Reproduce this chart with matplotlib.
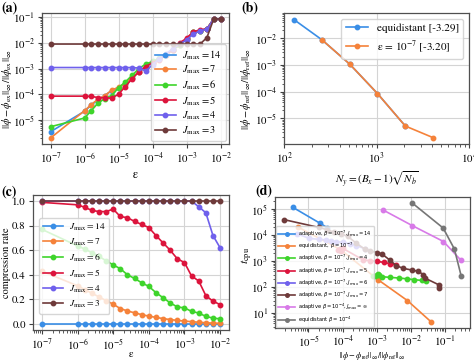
import matplotlib
matplotlib.use("Agg")
import matplotlib.pyplot as plt
from matplotlib.ticker import LogLocator
from matplotlib.font_manager import FontProperties

plt.rcParams['font.family'] = ['STIXGeneral', 'DejaVu Serif']
plt.rcParams['mathtext.fontset'] = 'stix'
plt.rcParams['axes.edgecolor'] = '#505050'
plt.rcParams['axes.linewidth'] = 0.9
plt.rcParams['grid.color'] = '#d4d4d4'
plt.rcParams['grid.linewidth'] = 0.8
plt.rcParams['xtick.color'] = '#404040'
plt.rcParams['ytick.color'] = '#404040'
plt.rcParams['xtick.labelcolor'] = 'black'
plt.rcParams['ytick.labelcolor'] = 'black'
plt.rcParams['xtick.major.size'] = 3
plt.rcParams['ytick.major.size'] = 3
plt.rcParams['xtick.minor.size'] = 1.8
plt.rcParams['ytick.minor.size'] = 1.8
plt.rcParams['xtick.major.pad'] = 2.2
plt.rcParams['ytick.major.pad'] = 2.2
plt.rcParams['xtick.labelsize'] = 7.8
plt.rcParams['ytick.labelsize'] = 7.8

# ---------------- donnees ----------------
# seuils epsilon (panneaux a et c)
eps = [1e-7, 1e-6, 1.58e-6, 2.51e-6, 3.98e-6, 6.31e-6, 1e-5, 1.58e-5, 2.51e-5,
       3.98e-5, 6.31e-5, 1e-4, 1.58e-4, 2.51e-4, 3.98e-4, 6.31e-4, 1e-3,
       1.58e-3, 2.51e-3, 3.98e-3, 6.31e-3, 1e-2]

jmax_labels = ['14', '7', '6', '5', '4', '3']

# (a) erreur relative
err_a_14 = [3.5e-6, 2.2e-5, 3.8e-5, 6.2e-5, 9.0e-5, 1.4e-4, 1.8e-4, 2.6e-4, 4.5e-4,
            7.5e-4, 1.2e-3, 1.7e-3, 2.3e-3, 3.4e-3, 5.5e-3, 8.0e-3, 1.4e-2, 2.6e-2,
            3.0e-2, 3.5e-2, 8.5e-2, 8.5e-2]
err_a_7 = [2.0e-6, 2.3e-5, 4.0e-5, 6.5e-5, 9.0e-5, 1.45e-4, 1.9e-4, 2.6e-4, 4.5e-4,
           7.5e-4, 1.2e-3, 1.7e-3, 2.3e-3, 3.4e-3, 5.5e-3, 8.0e-3, 1.4e-2, 2.6e-2,
           3.0e-2, 3.5e-2, 8.5e-2, 8.5e-2]
err_a_6 = [5.5e-6, 1.2e-5, 2.3e-5, 4.6e-5, 6.8e-5, 9.0e-5, 1.8e-4, 3.0e-4, 5.5e-4,
           1.0e-3, 1.5e-3, 1.9e-3, 2.5e-3, 3.5e-3, 5.5e-3, 8.5e-3, 1.4e-2, 2.6e-2,
           3.0e-2, 3.5e-2, 8.5e-2, 8.5e-2]
err_a_5 = [8.5e-5, 8.5e-5, 8.3e-5, 7.5e-5, 7.2e-5, 7.2e-5, 1.0e-4, 2.0e-4, 4.0e-4,
           7.5e-4, 1.2e-3, 1.7e-3, 2.2e-3, 3.4e-3, 5.5e-3, 1.0e-2, 1.5e-2, 2.7e-2,
           3.2e-2, 3.5e-2, 8.5e-2, 8.5e-2]
err_a_4 = [1.1e-3, 1.1e-3, 1.1e-3, 1.1e-3, 1.1e-3, 1.1e-3, 1.1e-3, 1.1e-3, 1.1e-3,
           1.05e-3, 8.0e-4, 1.4e-3, 2.4e-3, 3.8e-3, 6.0e-3, 9.0e-3, 1.3e-2, 2.2e-2,
           2.9e-2, 3.4e-2, 8.5e-2, 8.5e-2]
err_a_3 = [9e-3, 9e-3, 9e-3, 9e-3, 9e-3, 9e-3, 9e-3, 9e-3, 9e-3, 9e-3, 9e-3, 9e-3,
           9e-3, 9e-3, 9e-3, 9e-3, 9e-3, 9e-3, 9e-3, 1.6e-2, 8.5e-2, 8.5e-2]

# (c) taux de compression
comp_14 = [0.0, 0.0, 0.0, 0.0, 0.0, 0.0, 0.0, 0.0, 0.0, 0.0, 0.0, 0.0, 0.0, 0.0,
           0.0, 0.0, 0.0, 0.0, 0.0, 0.0, 0.0, 0.0]
comp_7 = [0.43, 0.31, 0.28, 0.25, 0.22, 0.19, 0.16, 0.125, 0.105, 0.09, 0.075, 0.063,
          0.053, 0.043, 0.035, 0.028, 0.023, 0.018, 0.013, 0.009, 0.006, 0.004]
comp_6 = [0.77, 0.635, 0.61, 0.58, 0.55, 0.515, 0.48, 0.45, 0.40, 0.37, 0.335, 0.305,
          0.255, 0.213, 0.171, 0.138, 0.13, 0.102, 0.088, 0.061, 0.047, 0.041]
comp_5 = [0.99, 0.97, 0.95, 0.925, 0.915, 0.915, 0.935, 0.875, 0.865, 0.835, 0.81,
          0.785, 0.72, 0.66, 0.60, 0.53, 0.50, 0.39, 0.35, 0.23, 0.185, 0.157]
comp_4 = [1.0, 1.0, 1.0, 1.0, 1.0, 1.0, 1.0, 1.0, 1.0, 1.0, 1.0, 1.0, 1.0, 1.0, 1.0,
          1.0, 1.0, 1.0, 0.955, 0.905, 0.72, 0.62]
comp_3 = [1.0, 1.0, 1.0, 1.0, 1.0, 1.0, 1.0, 1.0, 1.0, 1.0, 1.0, 1.0, 1.0, 1.0, 1.0,
          1.0, 1.0, 1.0, 1.0, 1.0, 1.0, 1.0]

# (b) convergence
ny_equi = [128, 256, 512, 1024, 2048]
err_equi = [5.1e-2, 9.0e-3, 1.1e-3, 8.6e-5, 5.2e-6]
ny_eps = [256, 512, 1024, 2048, 4096]
err_eps = [9.0e-3, 1.1e-3, 8.6e-5, 5.2e-6, 1.9e-6]

# (d) temps cpu en fonction de l'erreur
d_x_14 = [3.5e-6, 2.2e-5, 3.6e-5]
d_y_14 = [1.15e5, 2.8e4, 1.9e4]
d_x_eq7 = [5.0e-6, 8.5e-5, 1.1e-3, 8.0e-3, 4.0e-2]
d_y_eq7 = [2.0e4, 2.8e3, 1.9e2, 30, 4.5]
d_x_4 = [8.0e-4, 9.0e-4, 1.0e-3, 1.1e-3, 1.2e-3, 1.4e-3, 2.5e-3, 4.5e-3, 8.0e-3,
         1.25e-2, 2.2e-2, 2.8e-2]
d_y_4 = [260, 275, 300, 320, 290, 250, 234, 222, 205, 191, 178, 165]
d_x_5 = [7.5e-5, 8.5e-5, 9.0e-5, 9.5e-5, 1.0e-4, 4.0e-4, 6.2e-4, 1.0e-3, 1.6e-3,
         2.5e-3, 3.8e-3]
d_y_5 = [2.6e3, 3.0e3, 2.4e3, 2.8e3, 3.1e3, 1.1e3, 1.04e3, 960, 890, 790, 700]
d_x_6 = [4.7e-6, 1.05e-5, 2.0e-5, 3.2e-5, 4.5e-5, 6.5e-5, 1.0e-4, 1.6e-4, 2.5e-4, 4.5e-4]
d_y_6 = [1.1e4, 7.4e3, 6.8e3, 6.5e3, 6.0e3, 5.6e3, 5.2e3, 4.6e3, 3.9e3, 3.0e3]
d_x_7 = [1.9e-6, 2.0e-5, 3.5e-5, 5.6e-5, 8.9e-5, 1.4e-4, 2.5e-4, 4.4e-4, 6.2e-4,
         1.0e-3, 1.4e-3, 2.5e-3, 3.8e-3, 6.0e-3, 1.07e-2, 1.65e-2, 2.35e-2, 2.6e-2,
         6.6e-2, 6.6e-2]
d_y_7 = [3.9e4, 1.95e4, 1.6e4, 1.26e4, 1.1e4, 8.9e3, 4.9e3, 2.9e3, 2.5e3, 2.1e3,
         1.9e3, 1.05e3, 660, 520, 450, 400, 300, 220, 122, 92]
d_x_inf = [1.5e-3, 1.1e-2, 9.1e-2, 0.30]
d_y_inf = [9.3e4, 2.3e4, 5.6e3, 1.05e3]
d_x_eq4 = [1.1e-2, 8.9e-2, 0.19, 0.30]
d_y_eq4 = [1.7e5, 1.85e4, 2.9e3, 270]

couleurs = ['#3a8ee6', '#f5823a', '#3ed42b', '#dc143c', '#6f60ec', '#6e3a3a']
violet = '#d87ae8'
gris = '#767676'

W, H = 474, 361
fig = plt.figure(figsize=(W / 100, H / 100), dpi=100)

def rect(l, r, t, b):
    return [l / W, (H - b) / H, (r - l) / W, (b - t) / H]

def decades(axis):
    axis.set_major_locator(LogLocator(base=10, numticks=30))

def xlabel_bas(ax, y_px, bottom_px, height_px):
    # xlabel centre verticalement a y_px (pixels depuis le haut)
    ax.xaxis.label.set_va('center')
    ax.xaxis.set_label_coords(0.5, -(y_px - bottom_px) / height_px)

style = dict(marker='o', markersize=3.2, linewidth=1.2)

# ---------------- (a) ----------------
axa = fig.add_axes(rect(42, 229, 13, 144))
series_a = [err_a_14, err_a_7, err_a_6, err_a_5, err_a_4, err_a_3]
for vals, c, lab in zip(series_a, couleurs, jmax_labels):
    axa.plot(eps, vals, color=c, label=r'$J_{\max} = %s$' % lab, **style)
axa.set_xscale('log')
axa.set_yscale('log')
decades(axa.xaxis)
decades(axa.yaxis)
axa.grid(True, which='major')
axa.set_xlabel('ε', fontsize=8.5, labelpad=2)
axa.set_ylabel(r'$||\phi - \phi_{\rm ex}||_\infty / ||\phi_{\rm ex}||_\infty$', fontsize=7.5)
axa.yaxis.set_label_coords(-0.15, 0.42)
axa.legend(loc='lower right', fontsize=7.5, borderaxespad=0.3, handlelength=2.0,
           labelspacing=0.2, handletextpad=0.6)

# ---------------- (b) ----------------
axb = fig.add_axes(rect(284, 469, 13, 144))
axb.plot(ny_equi, err_equi, color=couleurs[0], label='equidistant [-3.29]', **style)
axb.plot(ny_eps, err_eps, color=couleurs[1], label=r'ε = $10^{-7}$ [-3.20]', **style)
axb.set_xscale('log')
axb.set_yscale('log')
decades(axb.xaxis)
decades(axb.yaxis)
axb.set_xlim(100, 1e4)
axb.set_ylim(1.1e-6, 9.0e-2)
axb.grid(True, which='major')
axb.set_xlabel(r'$N_y = (B_x - 1)\sqrt{N_b}$', fontsize=8, labelpad=2)
axb.set_ylabel(r'$||\phi - \phi_{\rm ref}||_\infty / ||\phi_{\rm ref}||_\infty$', fontsize=7.5)
axb.yaxis.set_label_coords(-0.168, 0.42)
axb.legend(loc='upper right', fontsize=8, borderaxespad=0.5, handlelength=2.0)

# ---------------- (c) ----------------
axc = fig.add_axes(rect(33, 229, 195, 330))
series_c = [comp_14, comp_7, comp_6, comp_5, comp_4, comp_3]
for vals, c, lab in zip(series_c, couleurs, jmax_labels):
    axc.plot(eps, vals, color=c, label=r'$J_{\max} = %s$' % lab, **style)
axc.set_xscale('log')
decades(axc.xaxis)
axc.grid(True, which='major')
axc.set_xlabel('ε', fontsize=7.5)
xlabel_bas(axc, 354, 330, 135)
axc.set_ylabel('compression rate', fontsize=7.5)
axc.yaxis.set_label_coords(-0.112, 0.5)
axc.legend(loc='upper left', bbox_to_anchor=(0.03, 0.83), borderaxespad=0,
           fontsize=6.8, handlelength=2.2, labelspacing=0.4, handletextpad=0.6)

# ---------------- (d) ----------------
axd = fig.add_axes(rect(275, 470, 197, 328))
axd.plot(d_x_14, d_y_14, color=couleurs[0],
         label=r'adaptive, $\beta = 10^{-7}, J_{\max} = 14$', **style)
axd.plot(d_x_eq7, d_y_eq7, color=couleurs[1], label=r'equidistant, $\beta = 10^{-7}$', **style)
axd.plot(d_x_4, d_y_4, color=couleurs[2],
         label=r'adaptive, $\beta = 10^{-7}, J_{\max} = 4$', **style)
axd.plot(d_x_5, d_y_5, color=couleurs[3],
         label=r'adaptive, $\beta = 10^{-7}, J_{\max} = 5$', **style)
axd.plot(d_x_6, d_y_6, color=couleurs[4],
         label=r'adaptive, $\beta = 10^{-7}, J_{\max} = 6$', **style)
axd.plot(d_x_7, d_y_7, color=couleurs[5],
         label=r'adaptive, $\beta = 10^{-7}, J_{\max} = 7$', **style)
axd.plot(d_x_inf, d_y_inf, color=violet,
         label=r'adaptive $\beta = 10^{-4}, J_{\max} = \infty$', **style)
axd.plot(d_x_eq4, d_y_eq4, color=gris, label=r'equidistant $\beta = 10^{-4}$', **style)
axd.set_xscale('log')
axd.set_yscale('log')
decades(axd.xaxis)
decades(axd.yaxis)
axd.tick_params(axis='x', pad=1.5)
axd.grid(True, which='major')
axd.set_xlabel(r'$||\phi - \phi_{\rm ref}||_\infty / ||\phi_{\rm ref}||_\infty$', fontsize=6)
xlabel_bas(axd, 356, 328, 131)
axd.set_ylabel(r'$t_{\rm cpu}$', fontsize=8.5)
axd.yaxis.set_label_coords(-0.108, 0.55)
leg_font = FontProperties(family='DejaVu Sans', size=3.7, math_fontfamily='dejavusans')
axd.legend(loc='lower left', prop=leg_font, borderaxespad=0.2, handlelength=3.2,
           labelspacing=0.38, borderpad=0.45, handletextpad=0.7, markerscale=0.8)

# etiquettes des panneaux
for x, y, t in [(1, 2, '(a)'), (241, 2, '(b)'), (1, 186, '(c)'), (255, 185, '(d)')]:
    fig.text(x / W, 1 - y / H, t, fontsize=10, fontweight='bold', va='top', ha='left')

fig.savefig('out.png', dpi=100)
